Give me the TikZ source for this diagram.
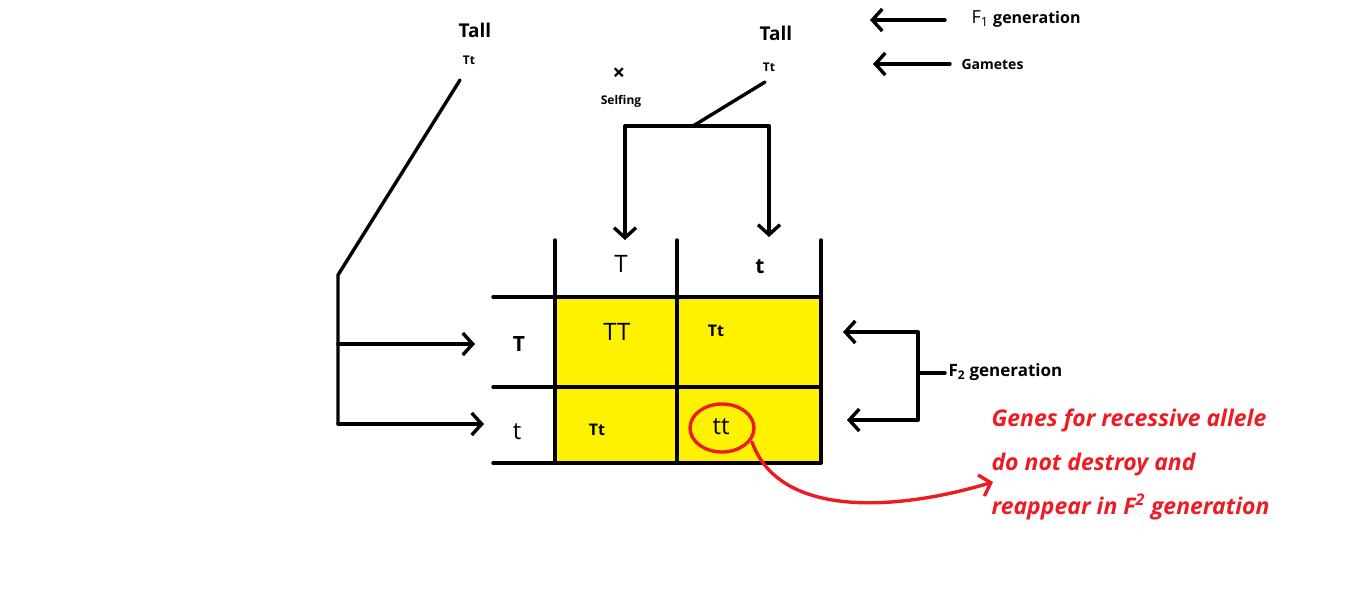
\documentclass[tikz,border=0pt]{standalone}
\usepackage{fontspec}
\setmainfont{Open Sans}
\usetikzlibrary{arrows.meta}
\definecolor{myred}{RGB}{237,28,36}
\definecolor{myyel}{RGB}{255,242,0}
\begin{document}
\begin{tikzpicture}[x=1pt,y=-1pt,
  ln/.style={line width=3.4pt,line cap=round,line join=round},
  ar/.style={ln,-{Straight Barb[length=10pt,width=22pt,line width=3.4pt]}},
  big/.style={font=\fontsize{19}{22}\selectfont\bfseries},
  sm/.style={font=\fontsize{12}{15}\selectfont\bfseries},
  cell/.style={font=\fontsize{24}{26}\selectfont},
  lab/.style={font=\fontsize{17}{20}\selectfont\bfseries}]
\useasboundingbox (0,0) rectangle (1360,603);
\fill[myyel] (555,297) rectangle (821,463);
% grid
\foreach \x in {555,677,821} \draw[ln] (\x,240) -- (\x,463);
\foreach \y in {297,387,463} \draw[ln] (493,\y) -- (821,\y);
% parents
\node[big] (p1) at (475,30) {Tall};
\node[sm] (g1) at (469,60) {Tt};
\node[big] (p2) at (776,33) {Tall};
\node[sm] (g2) at (769,67) {Tt};
\node[font=\fontsize{22}{22}\selectfont\bfseries] (x) at (619,74) {×};
\node[sm] (self) at (621,101) {Selfing};
% left lines
\coordinate (a1) at (460,80); \coordinate (a2) at (338,275); \coordinate (a3) at (338,424);
\coordinate (a4) at (338,344); \coordinate (r1) at (475,344); \coordinate (r2) at (484,424);
\draw[ln] (a1) -- (a2) -- (a3);
\draw[ar] (a4) -- (r1);
\draw[ar] (a3) -- (r2);
% top lines
\coordinate (b1) at (765,82); \coordinate (b2) at (693,126); \coordinate (b3) at (625,126);
\coordinate (b4) at (769,126); \coordinate (b5) at (625,240); \coordinate (b6) at (769,237);
\draw[ln] (b1) -- (b2);
\draw[ln] (b3) -- (b4);
\draw[ar] (b3) -- (b5);
\draw[ar] (b4) -- (b6);
% labels
\node[cell] (cT) at (621,264) {T};
\node[font=\fontsize{21}{24}\selectfont\bfseries] (ct) at (760,267) {t};
\node[font=\fontsize{21}{24}\selectfont\bfseries] (rT) at (519,344) {T};
\node[cell] (rt) at (517,432) {t};
\node[cell] (TT) at (617,332) {TT};
\node[font=\fontsize{16}{18}\selectfont\bfseries] (Tt1) at (716,331) {Tt};
\node[font=\fontsize{16}{18}\selectfont\bfseries] (Tt2) at (597,430) {Tt};
\node[cell] (tt) at (721,427) {tt};
\draw[myred,line width=3.4pt] (722,428) ellipse [x radius=32,y radius=24];
\coordinate (c1) at (752,442); \coordinate (c2) at (993,482);
\draw[myred,ln,-{Straight Barb[length=10pt,width=22pt,line width=3.4pt]}] (c1) .. controls (780,520) and (900,510) .. (c2);
% right bracket
\coordinate (d1) at (918,332); \coordinate (d2) at (918,420); \coordinate (d3) at (918,373);
\coordinate (d4) at (843,332); \coordinate (d5) at (847,420); \coordinate (d6) at (945,373);
\draw[ln] (d1) -- (d2);
\draw[ar] (d1) -- (d4);
\draw[ar] (d2) -- (d5);
\draw[ln] (d3) -- (d6);
\node[lab,anchor=west] (f2) at (945,372) {F\textsubscript{2} generation};
% top right
\coordinate (e1) at (945,20); \coordinate (e2) at (870,20);
\coordinate (e3) at (950,64); \coordinate (e4) at (873,64);
\draw[ar] (e1) -- (e2);
\draw[ar] (e3) -- (e4);
\node[anchor=west,font=\fontsize{18}{20}\selectfont] (f1) at (968,19) {F\textsubscript{1} \textbf{\fontsize{16}{20}\selectfont generation}};
\node[anchor=west,font=\fontsize{14}{18}\selectfont\bfseries] (gam) at (958,64) {Gametes};
% red text
\node[anchor=west,align=left,text=myred,font=\fontsize{23}{44}\selectfont\bfseries\itshape] (note) at (988,464)
 {Genes for recessive allele\\do not destroy and\\reappear in F\textsuperscript{2} generation};
\end{tikzpicture}
\end{document}
